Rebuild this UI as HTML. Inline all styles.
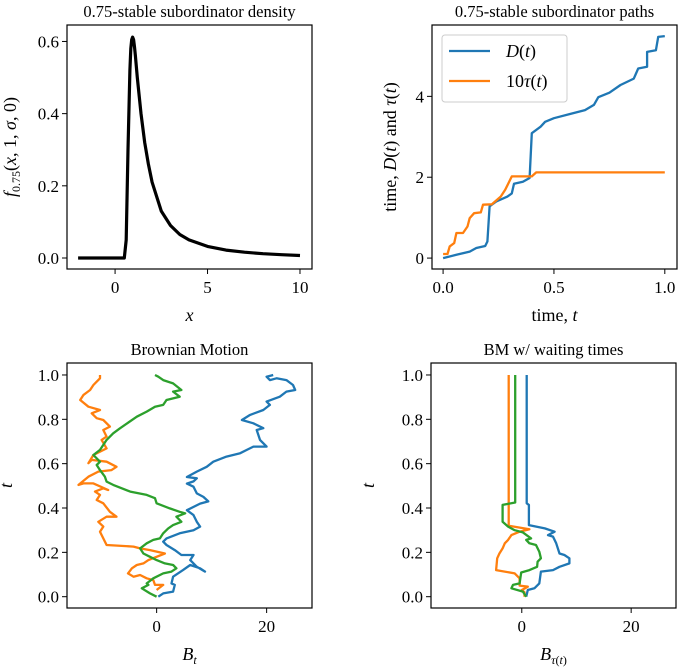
<!DOCTYPE html>
<html><head><meta charset="utf-8"><style>
body{margin:0;background:#fff}
svg{display:block;font-family:"Liberation Serif","DejaVu Serif",serif}
text{fill:#000}
</style></head><body>
<svg id="fig" width="685" height="668" viewBox="0 0 685 668" xmlns="http://www.w3.org/2000/svg"></svg>
<script>
// ---- data ----
const densX=[-2,-1,0,0.5,0.6,0.7,0.8,0.85,0.9,0.95,1.0,1.05,1.1,1.2,1.4,1.6,1.8,2.0,2.5,3,3.5,4,5,6,7,8,9,10];
const densY=[0,0,0,0,0.05,0.3,0.52,0.58,0.605,0.612,0.605,0.585,0.56,0.5,0.4,0.32,0.26,0.21,0.13,0.09,0.065,0.05,0.032,0.022,0.016,0.012,0.009,0.007];
const dT=[0,0.06,0.12,0.15,0.19,0.2,0.21,0.24,0.29,0.31,0.32,0.36,0.39,0.40,0.44,0.46,0.50,0.57,0.64,0.68,0.70,0.75,0.80,0.86,0.88,0.92,0.92,0.96,0.97,1.0];
const dVal=[0,0.08,0.16,0.25,0.30,0.41,1.28,1.4,1.52,1.6,1.84,1.89,1.98,3.09,3.25,3.37,3.46,3.56,3.66,3.79,3.98,4.09,4.28,4.44,4.69,4.73,5.10,5.14,5.47,5.49];
const tauT=[0,0.02,0.03,0.05,0.06,0.09,0.11,0.12,0.14,0.17,0.18,0.22,0.26,0.28,0.31,0.40,0.42,1.0];
const tauVal=[0.1,0.1,0.29,0.37,0.62,0.62,0.78,0.99,1.11,1.13,1.32,1.33,1.52,1.69,2.02,2.02,2.12,2.12];
const bmBlueB=[0.3,1.2,3.0,3.3,2.7,3.0,4.8,6.1,7.9,8.8,7.3,6.1,6.7,4.5,3.3,1.8,1.2,1.8,4.2,6.7,7.9,7.3,6.7,5.5,7.9,9.4,8.5,7.3,6.7,5.5,6.7,7.3,5.5,7.3,9.1,10.3,12.7,15.2,16.4,17.6,20.0,18.8,18.2,19.4,17.6,15.5,17.0,19.4,20.6,20.0,22.4,23.6,25.2,24.8,23.6,21.8,20.6,20.0,21.2];
const bmBlueT=[0,.015,.023,.053,.06,.09,.12,.143,.128,.113,.135,.165,.188,.188,.21,.233,.248,.263,.286,.30,.316,.338,.368,.39,.42,.43,.45,.466,.496,.51,.52,.534,.54,.564,.586,.609,.632,.647,.662,.677,.677,.707,.752,.76,.782,.797,.82,.842,.865,.88,.902,.925,.932,.955,.977,.985,.977,.992,1.0];
const bmOrangeB=[0,1.2,-0.3,-0.6,-1.8,-3.0,-4.2,-5.2,-4.5,-3.6,-2.4,-1.5,0,1.5,-1.2,-3.0,-4.2,-9.1,-9.7,-10.3,-9.7,-10.6,-9.1,-7.3,-8.5,-9.7,-10.9,-10.3,-11.2,-9.7,-8.8,-11.5,-13.3,-14.2,-12.4,-10.6,-8.2,-7.3,-9.1,-11.8,-12.4,-11.5,-9.1,-10.0,-9.1,-9.7,-8.5,-9.7,-10.9,-11.8,-10.3,-12.4,-13.9,-13.3,-12.1,-11.5,-10.3,-10.3];
const bmOrangeT=[.03,.053,.053,.075,.083,.098,.09,.105,.128,.143,.15,.165,.18,.195,.21,.218,.226,.233,.263,.293,.316,.338,.361,.361,.383,.421,.436,.459,.474,.489,.481,.511,.511,.504,.541,.564,.571,.586,.609,.617,.602,.639,.669,.707,.722,.752,.767,.797,.805,.827,.842,.857,.887,.91,.932,.955,.985,1.0];
const bmGreenB=[0,-1.2,-2.7,-1.5,-1.8,-0.6,1.2,2.7,3.6,3.0,1.5,0,-1.2,-2.4,-3.0,-1.8,-0.6,0.6,1.2,2.1,3.0,4.5,3.6,5.2,4.2,2.4,0,-0.3,-1.8,-4.8,-7.9,-9.1,-9.4,-10.3,-10.9,-10.3,-11.5,-10.3,-9.1,-7.9,-6.7,-3.6,-1.8,-0.3,1.2,1.8,4.2,3.0,4.5,3.0,1.2,0.3,-0.3];
const bmGreenT=[0,.015,.038,.053,.06,.083,.105,.113,.128,.143,.15,.165,.18,.195,.218,.241,.256,.263,.286,.308,.323,.338,.361,.376,.383,.398,.421,.444,.459,.474,.504,.519,.541,.571,.594,.609,.639,.662,.707,.737,.759,.812,.835,.857,.865,.887,.902,.925,.932,.962,.977,.992,1.0];
const wBlueB=[0.8,1.1,2.3,3.2,3.5,5.7,6.9,8.7,8.7,7.8,6.9,6.3,5.7,4.8,6.0,4.2,1.3,1.3,0.9,0.9];
const wBlueT=[0,0.03,0.038,0.06,0.113,0.12,0.135,0.15,0.173,0.188,0.195,0.241,0.271,0.278,0.293,0.308,0.323,0.414,0.421,1.0];
const wOrangeB=[0.5,0.5,0,1.1,-0.4,-0.4,-1.3,-4.7,-4.5,-4.1,-3.5,-3.1,-2.5,-1.9,-0.4,1.4,-2.4,-2.4];
const wOrangeT=[0,0.02,0.03,0.045,0.05,0.083,0.105,0.12,0.173,0.195,0.218,0.241,0.256,0.278,0.293,0.304,0.32,1.0];
const wGreenB=[0.8,0.2,-1.9,-1.6,-0.4,-0.1,1.4,2.8,2.9,3.5,3.2,2.6,1.4,0.8,1.7,0.2,-1.3,-2.5,-3.5,-3.5,-1.2,-1.2];
const wGreenT=[0,0.023,0.038,0.053,0.06,0.109,0.12,0.135,0.158,0.173,0.203,0.233,0.241,0.256,0.263,0.29,0.30,0.316,0.338,0.414,0.425,1.0];
const tickDensX=[0,5,10], tickDensY=[0,0.2,0.4,0.6];
const tickPathX=[0,0.5,1], tickPathY=[0,2,4];
const tickBmX=[0,20], tickBmY=[0,0.2,0.4,0.6,0.8,1.0];

const svg=document.getElementById('fig');
const NS='http://www.w3.org/2000/svg';
function mk(tag,attrs,parent){const e=document.createElementNS(NS,tag);for(const k in attrs)e.setAttribute(k,attrs[k]);(parent||svg).appendChild(e);return e;}
function panel(o){
  const g=mk('g',{});
  
  
  const sx=v=>o.x0+(v-o.xmin)/(o.xmax-o.xmin)*(o.x1-o.x0);
  const sy=v=>o.y1-(v-o.ymin)/(o.ymax-o.ymin)*(o.y1-o.y0);
  o.series.forEach(s=>{
    const d=s.xs.map((x,i)=>(i?'L':'M')+sx(x).toFixed(1)+' '+sy(s.ys[i]).toFixed(1)).join('');
    const p=mk('path',{d:d,fill:'none',stroke:s.color,'stroke-width':s.w,'stroke-linejoin':'round','stroke-linecap':'butt'},g);
    
    
  });
  const fr=mk('rect',{x:o.x0,y:o.y0,width:o.x1-o.x0,height:o.y1-o.y0,fill:'none',stroke:'#000','stroke-width':1.2},g);
  
  
  o.xt.forEach((v,i)=>{const X=sx(v);mk('line',{x1:X,x2:X,y1:o.y1,y2:o.y1+5,stroke:'#000','stroke-width':1},g);
    const t=mk('text',{x:X,y:o.y1+24,'text-anchor':'middle','font-size':17},g);t.textContent=o.xl[i];
    
    });
  o.yt.forEach((v,i)=>{const Y=sy(v);mk('line',{x1:o.x0-5,x2:o.x0,y1:Y,y2:Y,stroke:'#000','stroke-width':1},g);
    const t=mk('text',{x:o.x0-8,y:Y+6,'text-anchor':'end','font-size':17},g);t.textContent=o.yl[i];
    
    });
  const ti=mk('text',{x:(o.x0+o.x1)/2,y:o.y0-8,'text-anchor':'middle','font-size':16.5},g);ti.textContent=o.title;
  
  
  const xl=mk('text',{x:(o.x0+o.x1)/2,y:o.y1+52,'text-anchor':'middle','font-size':18},g);xl.innerHTML=o.xlabel;
  
  
  const yx=o.ylx, yy=(o.y0+o.y1)/2;
  const yl=mk('text',{x:yx,y:yy,'text-anchor':'middle','font-size':18,transform:`rotate(-90 ${yx} ${yy})`},g);yl.innerHTML=o.ylabel;
  
  
  return {sx,sy,g};
}
const C1='#1f77b4',C2='#ff7f0e',C3='#2ca02c';
panel({name:'density-panel',x0:67,x1:312,y0:25,y1:269,xmin:-2.6,xmax:10.65,ymin:-0.0305,ymax:0.6456,
  series:[{name:'density-curve',xs:densX,ys:densY,color:'#000',w:3.2}],
  xt:tickDensX,xl:['0','5','10'],yt:tickDensY,yl:['0.0','0.2','0.4','0.6'],
  title:'0.75-stable subordinator density',xlabel:'<tspan font-style="italic">x</tspan>',
  ylabel:'<tspan font-style="italic">f</tspan><tspan font-size="12" dy="4">0.75</tspan><tspan dy="-4">(</tspan><tspan font-style="italic">x</tspan>, 1, <tspan font-style="italic">σ</tspan>, 0)',ylx:16});
panel({name:'paths-panel',x0:432,x1:677,y0:25,y1:269,xmin:-0.05,xmax:1.055,ymin:-0.27,ymax:5.765,
  series:[{name:'D-path',xs:dT,ys:dVal,color:C1,w:2.3},{name:'tau-path',xs:tauT,ys:tauVal,color:C2,w:2.3}],
  xt:tickPathX,xl:['0.0','0.5','1.0'],yt:tickPathY,yl:['0','2','4'],
  title:'0.75-stable subordinator paths',xlabel:'time, <tspan font-style="italic">t</tspan>',
  ylabel:'time, <tspan font-style="italic">D</tspan>(<tspan font-style="italic">t</tspan>) and <tspan font-style="italic">τ</tspan>(<tspan font-style="italic">t</tspan>)',ylx:396});
panel({name:'brownian-panel',x0:67,x1:312,y0:363,y1:608,xmin:-16.3,xmax:28.25,ymin:-0.051,ymax:1.054,
  series:[{name:'bm-path-blue',xs:bmBlueB,ys:bmBlueT,color:C1,w:2.3},{name:'bm-path-orange',xs:bmOrangeB,ys:bmOrangeT,color:C2,w:2.3},{name:'bm-path-green',xs:bmGreenB,ys:bmGreenT,color:C3,w:2.3}],
  xt:tickBmX,xl:['0','20'],yt:tickBmY,yl:['0.0','0.2','0.4','0.6','0.8','1.0'],
  title:'Brownian Motion',xlabel:'<tspan font-style="italic">B</tspan><tspan font-style="italic" font-size="12" dy="4">t</tspan>',
  ylabel:'<tspan font-style="italic">t</tspan>',ylx:12});
panel({name:'waiting-panel',x0:431,x1:676,y0:363,y1:608,xmin:-16.6,xmax:28.2,ymin:-0.051,ymax:1.054,
  series:[{name:'wait-path-blue',xs:wBlueB,ys:wBlueT,color:C1,w:2.3},{name:'wait-path-orange',xs:wOrangeB,ys:wOrangeT,color:C2,w:2.3},{name:'wait-path-green',xs:wGreenB,ys:wGreenT,color:C3,w:2.3}],
  xt:tickBmX,xl:['0','20'],yt:tickBmY,yl:['0.0','0.2','0.4','0.6','0.8','1.0'],
  title:'BM w/ waiting times',xlabel:'<tspan font-style="italic">B</tspan><tspan font-size="12" dy="4"><tspan font-style="italic">τ</tspan>(<tspan font-style="italic">t</tspan>)</tspan>',
  ylabel:'<tspan font-style="italic">t</tspan>',ylx:374});
// legend
const lg=mk('g',{});


mk('rect',{x:442,y:35,width:125,height:67,rx:3,fill:'#fff','fill-opacity':0.85,stroke:'#ccc','stroke-width':1},lg);
mk('line',{x1:449,x2:490,y1:51,y2:51,stroke:C1,'stroke-width':2.3},lg);
mk('line',{x1:449,x2:490,y1:81,y2:81,stroke:C2,'stroke-width':2.3},lg);
const l1=mk('text',{x:506,y:57,'font-size':18},lg);l1.innerHTML='<tspan font-style="italic">D</tspan>(<tspan font-style="italic">t</tspan>)';


const l2=mk('text',{x:506,y:87,'font-size':18},lg);l2.innerHTML='10<tspan font-style="italic">τ</tspan>(<tspan font-style="italic">t</tspan>)';


</script>
</body></html>
